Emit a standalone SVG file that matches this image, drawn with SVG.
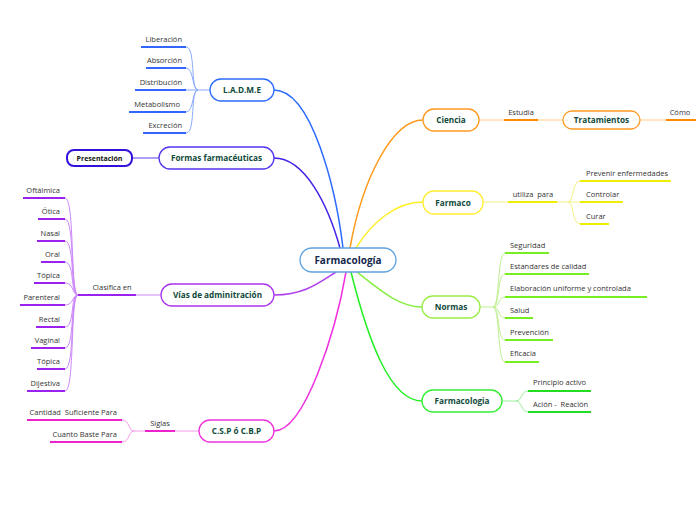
<svg xmlns="http://www.w3.org/2000/svg" width="696" height="520" viewBox="0 0 696 520">
<style>
text{font-family:"Open Sans","Noto Sans",sans-serif}
.sub{font-size:7.5px;fill:#333}
.lbl{font-size:8.2px;font-weight:bold;fill:#0f4a3a;text-anchor:middle}
.box{fill:#fff;stroke-width:1.3}
.c{fill:none;stroke-width:1.5}
.t{fill:none;stroke-width:1}
.u{fill:none;stroke-width:2}
</style>
<rect width="696" height="520" fill="#fff"/>
<g id="connectors">
  <!-- main branches -->
  <path class="c" stroke="#2c6bff" d="M274,90 C312,90 336,190 343,248"/>
  <path class="c" stroke="#4422e8" d="M274,158 C305,158 328,205 340,248"/>
  <path class="c" stroke="#b040ee" d="M274,295 C305,295 320,282 336,272"/>
  <path class="c" stroke="#f030e0" d="M274,431 C305,431 336,330 346,272"/>
  <path class="c" stroke="#ff9a1a" d="M350,248 C362,180 392,120 423,120"/>
  <path class="c" stroke="#ffee22" d="M356,248 C372,222 396,202 423,202"/>
  <path class="c" stroke="#88ee44" d="M357,272 C382,292 400,307 422,307"/>
  <path class="c" stroke="#22ee22" d="M351,272 C368,340 390,401 422,401"/>
  <!-- LADME -->
  <g stroke="#8aaaff" class="t">
    <path d="M198,90 H210"/>
    <path d="M186,47 C196,47 190,90 198,90"/>
    <path d="M186,68 C194,68 192,90 198,90"/>
    <path d="M186,90 H198"/>
    <path d="M186,112 C194,112 192,90 198,90"/>
    <path d="M186,133 C196,133 190,90 198,90"/>
  </g>
  <g stroke="#3366ff" class="u">
    <path d="M141,47 H186"/><path d="M146,68 H186"/><path d="M135,90 H186"/><path d="M129,112 H186"/><path d="M143,133 H186"/>
  </g>
  <!-- Formas -->
  <path class="u" stroke="#aaa0f8" d="M132,158 H159"/>
  <!-- Vias -->
  <path class="t" stroke="#cc88f8" d="M136,295 H161"/>
  <path class="u" stroke="#9922ee" d="M78,295 H136"/>
  <g stroke="#cc88f8" class="t">
    <path d="M65,198 C75,198 70,295 78,295"/>
    <path d="M65,219 C75,219 70,295 78,295"/>
    <path d="M65,241 C75,241 70,295 78,295"/>
    <path d="M65,262 C75,262 70,295 78,295"/>
    <path d="M65,283 C74,283 72,295 78,295"/>
    <path d="M65,305 C74,305 72,295 78,295"/>
    <path d="M65,327 C75,327 70,295 78,295"/>
    <path d="M65,348 C75,348 70,295 78,295"/>
    <path d="M65,369 C75,369 70,295 78,295"/>
    <path d="M65,391 C75,391 70,295 78,295"/>
  </g>
  <g stroke="#9922ee" class="u">
    <path d="M23,198 H65"/><path d="M38,219 H65"/><path d="M37,241 H65"/><path d="M41,262 H65"/><path d="M34,283 H65"/><path d="M20,305 H65"/><path d="M36,327 H65"/><path d="M31,348 H65"/><path d="M37,369 H65"/><path d="M27,391 H65"/>
  </g>
  <!-- CSP -->
  <path class="t" stroke="#f49ae8" d="M175,431 H199"/>
  <path class="u" stroke="#ee22cc" d="M145,431 H175"/>
  <g stroke="#f49ae8" class="t">
    <path d="M122,420 C130,420 128,431 134,431 H145"/>
    <path d="M122,442 C130,442 128,431 134,431"/>
  </g>
  <g stroke="#ee22cc" class="u">
    <path d="M27,420 H122"/><path d="M50,442 H122"/>
  </g>
  <!-- Ciencia -->
  <g stroke="#ffcc88" class="t">
    <path d="M479,120 H504"/><path d="M538,120 H563"/><path d="M640,120 H666"/>
  </g>
  <g stroke="#ff8c00" class="u">
    <path d="M504,120 H538"/><path d="M666,120 H696"/>
  </g>
  <!-- Farmaco -->
  <g stroke="#f4f080" class="t">
    <path d="M483,202 H508"/><path d="M557,202 H580"/>
    <path d="M568,202 C574,202 572,181 580,181"/>
    <path d="M568,202 C574,202 572,224 580,224"/>
  </g>
  <g stroke="#eeee00" class="u">
    <path d="M508,202 H557"/><path d="M580,181 H671"/><path d="M580,202 H623"/><path d="M580,224 H609"/>
  </g>
  <!-- Normas -->
  <g stroke="#c0f090" class="t">
    <path d="M480,307 H493"/>
    <path d="M493,307 C500,307 497,253 505,253"/>
    <path d="M493,307 C500,307 497,274 505,274"/>
    <path d="M493,307 C500,307 498,297 505,297"/>
    <path d="M493,307 C500,307 498,318 505,318"/>
    <path d="M493,307 C500,307 497,340 505,340"/>
    <path d="M493,307 C500,307 497,362 505,362"/>
  </g>
  <g stroke="#77ee22" class="u">
    <path d="M505,253 H549"/><path d="M505,274 H589"/><path d="M505,297 H647"/><path d="M505,318 H533"/><path d="M505,340 H553"/><path d="M505,362 H539"/>
  </g>
  <!-- Farmacologia right -->
  <g stroke="#99ee99" class="t">
    <path d="M502,401 H516"/>
    <path d="M516,401 C522,401 521,391 528,391"/>
    <path d="M516,401 C522,401 521,412 528,412"/>
  </g>
  <g stroke="#22dd22" class="u">
    <path d="M528,391 H591"/><path d="M528,412 H591"/>
  </g>
</g>

<g id="center">
  <rect class="box" x="300" y="248" width="96" height="24" rx="12" stroke="#5fa3e0"/>
  <text x="348" y="264" style="font-size:10px;font-weight:bold;fill:#15294d;text-anchor:middle">Farmacología</text>
</g>

<g id="ladme">
  <rect class="box" x="210" y="79" width="64" height="22" rx="11" stroke="#2c6bff"/>
  <text class="lbl" x="242" y="93">L.A.D.M.E</text>
</g>
<g id="ladme-items" class="sub" text-anchor="end">
  <text x="182" y="42">Liberación</text>
  <text x="182" y="63">Absorción</text>
  <text x="182" y="85">Distribución</text>
  <text x="180" y="107">Metabolismo</text>
  <text x="182" y="128">Excreción</text>
</g>

<g id="formas">
  <rect class="box" x="159" y="147" width="115" height="22" rx="11" stroke="#5533ee"/>
  <text class="lbl" x="216.5" y="161">Formas farmacéuticas</text>
</g>
<g id="presentacion">
  <rect class="box" x="67" y="150" width="65" height="16" rx="7" stroke="#3311dd" style="stroke-width:2"/>
  <text x="99.5" y="161" style="font-size:7px;font-weight:bold;fill:#111;text-anchor:middle">Presentación</text>
</g>

<g id="vias">
  <rect class="box" x="161" y="284" width="113" height="22" rx="11" stroke="#aa33ee"/>
  <text class="lbl" x="217.5" y="298">Vías de adminitración</text>
</g>
<g id="vias-items" class="sub" text-anchor="end">
  <text x="112" y="290" text-anchor="middle">Clasifica en</text>
  <text x="60" y="193">Oftálmica</text>
  <text x="60" y="214">Ótica</text>
  <text x="60" y="236">Nasal</text>
  <text x="60" y="257">Oral</text>
  <text x="60" y="278">Tópica</text>
  <text x="60" y="300">Parenteral</text>
  <text x="60" y="322">Rectal</text>
  <text x="60" y="343">Vaginal</text>
  <text x="60" y="364">Tópica</text>
  <text x="60" y="386">Dijestiva</text>
</g>

<g id="csp">
  <rect class="box" x="199" y="420" width="75" height="22" rx="11" stroke="#ee33dd"/>
  <text class="lbl" x="236.5" y="434">C.S.P ó C.B.P</text>
</g>
<g id="csp-items" class="sub" text-anchor="end">
  <text x="160" y="426" text-anchor="middle">Siglas</text>
  <text x="117" y="415" xml:space="preserve">Cantidad  Suficiente Para</text>
  <text x="117" y="437">Cuanto Baste Para</text>
</g>

<g id="ciencia">
  <rect class="box" x="423" y="109" width="56" height="22" rx="11" stroke="#ff9922"/>
  <text class="lbl" x="451" y="123">Ciencia</text>
</g>
<g id="tratamientos">
  <rect class="box" x="563" y="111" width="77" height="18" rx="9" stroke="#ff9922"/>
  <text class="lbl" x="601.5" y="123">Tratamientos</text>
</g>
<g id="ciencia-items" class="sub" text-anchor="middle">
  <text x="521" y="115">Estudia</text>
  <text x="680" y="115">Cómo</text>
</g>

<g id="farmaco">
  <rect class="box" x="423" y="191" width="60" height="23" rx="11" stroke="#ffee33"/>
  <text class="lbl" x="453" y="205.5">Farmaco</text>
</g>
<g id="farmaco-items" class="sub">
  <text x="533" y="197" text-anchor="middle" xml:space="preserve">utiliza  para</text>
  <text x="586" y="176">Prevenir enfermedades</text>
  <text x="586" y="197">Controlar</text>
  <text x="586" y="219">Curar</text>
</g>

<g id="normas">
  <rect class="box" x="422" y="296" width="58" height="22" rx="11" stroke="#99ee44"/>
  <text class="lbl" x="451" y="310">Normas</text>
</g>
<g id="normas-items" class="sub">
  <text x="510" y="248">Seguridad</text>
  <text x="510" y="269">Estandares de calidad</text>
  <text x="510" y="291">Elaboración uniforme y controlada</text>
  <text x="510" y="313">Salud</text>
  <text x="510" y="335">Prevención</text>
  <text x="510" y="356">Eficacia</text>
</g>

<g id="farmacologia2">
  <rect class="box" x="422" y="390" width="80" height="22" rx="11" stroke="#33ee33"/>
  <text class="lbl" x="462" y="404">Farmacologia</text>
</g>
<g id="farmacologia2-items" class="sub">
  <text x="533" y="385">Principio activo</text>
  <text x="533" y="407" xml:space="preserve">Ación -  Reación</text>
</g>
</svg>
